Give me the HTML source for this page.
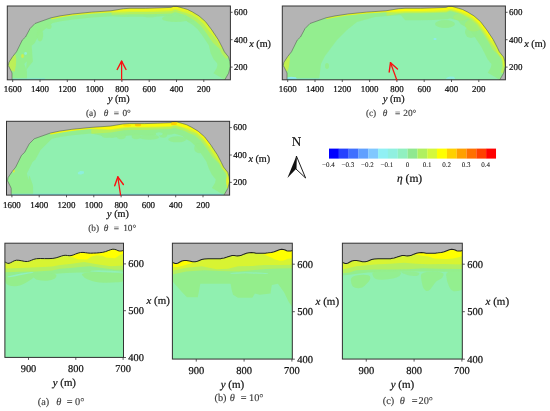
<!DOCTYPE html>
<html><head><meta charset="utf-8"><title>Figure</title>
<style>
html,body{margin:0;padding:0;background:#fff;}
body{width:550px;height:411px;overflow:hidden;}
svg{display:block;}
text{font-family:"Liberation Serif",serif;fill:#111;text-rendering:geometricPrecision;stroke:#111;stroke-width:0.22px;}
.it{font-style:italic;}
.tt{font-size:8.95px;}
.tl{font-size:10.2px;}
.ct{font-size:9.3px;fill:#3a3a3a;stroke:#3a3a3a;stroke-width:0.15px;}
.cl{font-size:7px;stroke-width:0.05px;}
.bt{font-size:10.4px;}
.bl{font-size:10.9px;}
.cb{font-size:10.3px;fill:#3a3a3a;stroke:#3a3a3a;stroke-width:0.15px;}
</style></head>
<body>
<svg width="550" height="411" viewBox="0 0 550 411">
<rect width="550" height="411" fill="#fff"/>
<g transform="translate(0,0)">
<rect x="7.3" y="6.0" width="223.1" height="73.8" fill="#b4b4b4"/>
<path d="M12.0 79.8 L12.0 73.0 L10.8 70.5 L8.3 65.5 L8.9 62.3 L12.7 56.5 L16.5 51.8 L22.3 40.0 L25.5 37.0 L30.0 28.6 L35.0 23.5 L51.0 17.8 L60.0 15.9 L72.7 14.0 L91.8 12.1 L111.0 10.8 L123.6 8.7 L130.0 8.3 L145.5 8.3 L158.0 7.9 L171.0 7.4 L173.5 6.4 L177.0 6.4 L183.6 8.3 L187.6 9.5 L192.7 12.1 L199.0 15.9 L205.5 21.6 L211.8 29.9 L218.2 39.5 L222.2 47.2 L224.4 51.8 L228.6 57.0 L229.9 61.6 L230.4 66.3 L228.6 73.2 L224.8 79.8 Z" fill="#90f0b0"/>
<clipPath id="tc0_0"><path d="M12.0 79.8 L12.0 73.0 L10.8 70.5 L8.3 65.5 L8.9 62.3 L12.7 56.5 L16.5 51.8 L22.3 40.0 L25.5 37.0 L30.0 28.6 L35.0 23.5 L51.0 17.8 L60.0 15.9 L72.7 14.0 L91.8 12.1 L111.0 10.8 L123.6 8.7 L130.0 8.3 L145.5 8.3 L158.0 7.9 L171.0 7.4 L173.5 6.4 L177.0 6.4 L183.6 8.3 L187.6 9.5 L192.7 12.1 L199.0 15.9 L205.5 21.6 L211.8 29.9 L218.2 39.5 L222.2 47.2 L224.4 51.8 L228.6 57.0 L229.9 61.6 L230.4 66.3 L228.6 73.2 L224.8 79.8 Z"/></clipPath><g clip-path="url(#tc0_0)">
<path d="M12.0 79.8 L12.0 73.0 L10.8 70.5 L8.3 65.5 L8.9 62.3 L12.7 56.5 L16.5 51.8 L22.3 40.0 L25.5 37.0 L30.0 28.6 L35.0 23.5 L51.0 17.8 L60.0 15.9 L72.7 14.0 L91.8 12.1 L111.0 10.8 L123.6 8.7 L130.0 8.3 L145.5 8.3 L158.0 7.9 L171.0 7.4 L173.5 6.4 L177.0 6.4 L183.6 8.3 L187.6 9.5 L192.7 12.1 L199.0 15.9 L205.5 21.6 L211.8 29.9 L218.2 39.5 L222.2 47.2 L224.4 51.8 L228.6 57.0 L229.9 61.6 L230.4 66.3 L228.6 73.2 L224.8 79.8 L213.5 73.3 L216.6 68.2 L217.5 64.9 L217.1 64.1 L217.3 63.4 L213.5 58.9 L210.6 53.1 L208.8 45.2 L202.8 36.3 L197.4 29.0 L192.4 24.7 L187.3 21.7 L184.3 17.3 L181.2 16.5 L175.4 14.8 L174.9 14.8 L171.8 15.9 L158.3 16.4 L145.6 16.8 L130.2 16.8 L124.7 17.1 L111.6 16.3 L92.3 17.6 L73.4 19.5 L60.9 21.3 L52.6 23.1 L40.0 33.3 L39.0 34.9 L34.6 43.2 L31.7 45.7 L32.9 61.4 L28.1 67.6 L26.0 70.6 L26.8 61.2 L24.3 63.9 L26.9 71.1 L27.0 79.8 Z" fill="#94ee8c" opacity="0.9"/>
<ellipse cx="40" cy="35" rx="3.2" ry="6.5" fill="#94ee8c" opacity="0.9"/>
<ellipse cx="49" cy="26.5" rx="2.6" ry="2.6" fill="#94ee8c" opacity="0.9"/>
<ellipse cx="176" cy="18.5" rx="14" ry="3.6" fill="#94ee8c" opacity="0.85"/>
<ellipse cx="150" cy="15.5" rx="7" ry="2" fill="#94ee8c" opacity="0.7"/>
<ellipse cx="190" cy="19" rx="5" ry="3" fill="#94ee8c" opacity="0.8"/>
<path d="M111.0 10.8 L123.6 8.7 L130.0 8.3 L145.5 8.3 L158.0 7.9 L171.0 7.4 L173.5 6.4 L177.0 6.4 L183.6 8.3 L187.6 9.5 L192.7 12.1 L199.0 15.9 L205.5 21.6 L211.8 29.9 L218.2 39.5 L222.2 47.2 L224.4 51.8 L228.6 57.0 L226.1 59.0 L221.7 53.5 L219.3 48.6 L212.9 42.7 L206.7 33.5 L200.9 25.8 L195.3 20.9 L189.7 17.5 L185.3 15.0 L181.9 14.1 L175.9 12.3 L174.5 12.3 L171.6 13.4 L158.2 13.9 L145.6 14.3 L130.1 14.3 L124.4 14.6 L111.7 14.7 Z" fill="#b4f060" opacity="1"/>
<path d="M51.0 17.8 L60.0 15.9 L72.7 14.0 L91.8 12.1 L111.0 10.8 L123.6 8.7 L130.0 8.3 L145.5 8.3 L158.0 7.9 L171.0 7.4 L173.5 6.4 L177.0 6.4 L183.6 8.3 L187.6 9.5 L192.7 12.1 L199.0 15.9 L205.5 21.6 L211.8 29.9 L218.2 39.5 L222.2 47.2 L220.9 47.9 L216.9 40.3 L209.4 31.6 L203.3 23.6 L197.2 18.3 L191.2 14.7 L186.1 13.0 L182.5 11.9 L176.3 10.1 L174.1 10.1 L171.4 11.2 L158.1 11.7 L145.6 12.1 L130.1 12.1 L124.1 12.5 L111.2 12.4 L91.9 13.7 L72.9 15.6 L60.3 17.5 L51.3 19.4 Z" fill="#d8f432" opacity="1"/>
<path d="M60.0 15.9 L72.7 14.0 L91.8 12.1 L111.0 10.8 L123.6 8.7 L130.0 8.3 L145.5 8.3 L158.0 7.9 L171.0 7.4 L173.5 6.4 L177.0 6.4 L183.6 8.3 L187.6 9.5 L192.7 12.1 L192.2 13.2 L187.1 10.6 L182.9 10.6 L176.6 8.8 L173.9 8.8 L171.2 9.8 L158.1 10.3 L145.5 10.7 L130.0 10.7 L123.9 11.1 L111.1 11.7 L91.9 13.0 L72.8 14.9 L60.1 16.8 Z" fill="#f0f61c" opacity="1"/>
<path d="M8.3 65.5 L8.9 62.3 L12.7 56.5 L15.3 54.0 L16.2 59.0 L15.9 65.5 L14.6 71.8 L10.8 70.5 Z" fill="#bcf058" opacity="1"/>
<ellipse cx="22.5" cy="56" rx="1.4" ry="1.9" fill="#ccf050" opacity="1"/>
<ellipse cx="25.6" cy="53.5" rx="1.4" ry="1.4" fill="#90f0d4" opacity="1"/>
</g>
<path d="M12 79.1 L45 79.1" stroke="#78dce4" stroke-width="1.1" fill="none" opacity="0.85"/>
<path d="M12.0 79.8 L12.0 73.0 L10.8 70.5 L8.3 65.5 L8.9 62.3 L12.7 56.5 L16.5 51.8 L22.3 40.0 L25.5 37.0 L30.0 28.6 L35.0 23.5 L51.0 17.8 L60.0 15.9 L72.7 14.0 L91.8 12.1 L111.0 10.8 L123.6 8.7 L130.0 8.3 L145.5 8.3 L158.0 7.9 L171.0 7.4 L173.5 6.4 L177.0 6.4 L183.6 8.3 L187.6 9.5 L192.7 12.1 L199.0 15.9 L205.5 21.6 L211.8 29.9 L218.2 39.5 L222.2 47.2 L224.4 51.8 L228.6 57.0 L229.9 61.6 L230.4 66.3 L228.6 73.2 L224.8 79.8" fill="none" stroke="#5a5a50" stroke-width="0.6"/>
<rect x="7.3" y="6.0" width="223.1" height="73.8" fill="none" stroke="#333" stroke-width="1"/>
<path d="M12.7 79.8 v2.2" stroke="#333" stroke-width="0.8"/>
<text x="12.7" y="92.3" text-anchor="middle" class="tt">1600</text>
<path d="M40.0 79.8 v2.2" stroke="#333" stroke-width="0.8"/>
<text x="40.0" y="92.3" text-anchor="middle" class="tt">1400</text>
<path d="M67.3 79.8 v2.2" stroke="#333" stroke-width="0.8"/>
<text x="67.3" y="92.3" text-anchor="middle" class="tt">1200</text>
<path d="M94.6 79.8 v2.2" stroke="#333" stroke-width="0.8"/>
<text x="94.6" y="92.3" text-anchor="middle" class="tt">1000</text>
<path d="M121.9 79.8 v2.2" stroke="#333" stroke-width="0.8"/>
<text x="121.9" y="92.3" text-anchor="middle" class="tt">800</text>
<path d="M149.2 79.8 v2.2" stroke="#333" stroke-width="0.8"/>
<text x="149.2" y="92.3" text-anchor="middle" class="tt">600</text>
<path d="M176.5 79.8 v2.2" stroke="#333" stroke-width="0.8"/>
<text x="176.5" y="92.3" text-anchor="middle" class="tt">400</text>
<path d="M203.8 79.8 v2.2" stroke="#333" stroke-width="0.8"/>
<text x="203.8" y="92.3" text-anchor="middle" class="tt">200</text>
<path d="M230.4 12.3 h2.2" stroke="#333" stroke-width="0.8"/>
<text x="234" y="15.2" class="tt">600</text>
<path d="M230.4 39.7 h2.2" stroke="#333" stroke-width="0.8"/>
<text x="234" y="42.6" class="tt">400</text>
<path d="M230.4 67.1 h2.2" stroke="#333" stroke-width="0.8"/>
<text x="234" y="70.0" class="tt">200</text>
<text x="249.2" y="46.6" class="tl"><tspan class="it">x</tspan> (m)</text>
<text x="107.9" y="102" class="tl"><tspan class="it">y</tspan> (m)</text>
</g>
<g transform="translate(-0.8,115.3)">
<rect x="7.3" y="6.0" width="223.1" height="73.8" fill="#b4b4b4"/>
<path d="M12.0 79.8 L12.0 73.0 L10.8 70.5 L8.3 65.5 L8.9 62.3 L12.7 56.5 L16.5 51.8 L22.3 40.0 L25.5 37.0 L30.0 28.6 L35.0 23.5 L51.0 17.8 L60.0 15.9 L72.7 14.0 L91.8 12.1 L111.0 10.8 L123.6 8.7 L130.0 8.3 L145.5 8.3 L158.0 7.9 L171.0 7.4 L173.5 6.4 L177.0 6.4 L183.6 8.3 L187.6 9.5 L192.7 12.1 L199.0 15.9 L205.5 21.6 L211.8 29.9 L218.2 39.5 L222.2 47.2 L224.4 51.8 L228.6 57.0 L229.9 61.6 L230.4 66.3 L228.6 73.2 L224.8 79.8 Z" fill="#90f0b0"/>
<clipPath id="tc0_115"><path d="M12.0 79.8 L12.0 73.0 L10.8 70.5 L8.3 65.5 L8.9 62.3 L12.7 56.5 L16.5 51.8 L22.3 40.0 L25.5 37.0 L30.0 28.6 L35.0 23.5 L51.0 17.8 L60.0 15.9 L72.7 14.0 L91.8 12.1 L111.0 10.8 L123.6 8.7 L130.0 8.3 L145.5 8.3 L158.0 7.9 L171.0 7.4 L173.5 6.4 L177.0 6.4 L183.6 8.3 L187.6 9.5 L192.7 12.1 L199.0 15.9 L205.5 21.6 L211.8 29.9 L218.2 39.5 L222.2 47.2 L224.4 51.8 L228.6 57.0 L229.9 61.6 L230.4 66.3 L228.6 73.2 L224.8 79.8 Z"/></clipPath><g clip-path="url(#tc0_115)">
<path d="M12.0 79.8 L12.0 73.0 L10.8 70.5 L8.3 65.5 L8.9 62.3 L12.7 56.5 L16.5 51.8 L22.3 40.0 L25.5 37.0 L30.0 28.6 L35.0 23.5 L51.0 17.8 L60.0 15.9 L72.7 14.0 L91.8 12.1 L111.0 10.8 L123.6 8.7 L130.0 8.3 L145.5 8.3 L158.0 7.9 L171.0 7.4 L173.5 6.4 L177.0 6.4 L183.6 8.3 L187.6 9.5 L192.7 12.1 L199.0 15.9 L205.5 21.6 L211.8 29.9 L218.2 39.5 L222.2 47.2 L224.4 51.8 L228.6 57.0 L229.9 61.6 L230.4 66.3 L228.6 73.2 L224.8 79.8 L212.7 72.8 L215.7 67.8 L216.5 64.7 L216.2 64.3 L216.4 63.9 L212.7 59.5 L209.7 53.5 L207.1 46.2 L201.2 37.4 L195.9 30.4 L191.3 26.3 L186.3 23.4 L183.0 20.6 L180.2 19.8 L174.8 18.2 L175.5 18.2 L172.2 19.3 L158.4 19.9 L145.7 20.3 L130.2 20.3 L125.2 20.6 L112.3 22.7 L92.3 18.1 L73.4 20.0 L61.0 21.8 L52.7 23.5 L40.9 35.1 L40.6 36.1 L36.3 44.3 L33.4 46.8 L27.7 58.3 L30.5 69.4 L28.7 72.0 L29.7 60.5 L30.5 60.8 L33.8 70.2 L34.0 79.8 Z" fill="#94ee8c" opacity="0.92"/>
<ellipse cx="150" cy="22" rx="10" ry="2.5" fill="#94ee8c" opacity="0.8"/>
<ellipse cx="178" cy="24" rx="9" ry="3" fill="#94ee8c" opacity="0.8"/>
<ellipse cx="107" cy="20" rx="4.5" ry="2.6" fill="#94ee8c" opacity="0.85"/>
<ellipse cx="122" cy="21" rx="4.5" ry="3" fill="#94ee8c" opacity="0.85"/>
<ellipse cx="137" cy="21.2" rx="4.5" ry="2.8" fill="#94ee8c" opacity="0.85"/>
<ellipse cx="164" cy="20" rx="4" ry="2.4" fill="#94ee8c" opacity="0.85"/>
<ellipse cx="200" cy="33" rx="5" ry="5" fill="#94ee8c" opacity="0.8"/>
<ellipse cx="160" cy="18.5" rx="3.5" ry="1.6" fill="#90f0b0" opacity="0.9"/>
<path d="M91.8 12.1 L111.0 10.8 L123.6 8.7 L130.0 8.3 L145.5 8.3 L158.0 7.9 L171.0 7.4 L173.5 6.4 L177.0 6.4 L183.6 8.3 L187.6 9.5 L192.7 12.1 L199.0 15.9 L205.5 21.6 L211.8 29.9 L218.2 39.5 L222.2 47.2 L224.4 51.8 L228.6 57.0 L229.9 61.6 L230.4 66.3 L227.8 66.6 L227.3 62.1 L226.3 58.3 L222.2 53.2 L219.9 48.4 L213.6 42.3 L207.4 33.0 L201.5 25.2 L195.8 20.2 L189.6 17.7 L185.1 15.4 L181.8 14.4 L175.8 12.7 L174.6 12.7 L171.6 13.8 L158.2 14.3 L145.6 14.7 L130.1 14.7 L124.4 15.0 L111.7 17.2 L92.2 18.5 Z" fill="#b4f060" opacity="1"/>
<path d="M51.0 17.8 L60.0 15.9 L72.7 14.0 L91.8 12.1 L111.0 10.8 L123.6 8.7 L130.0 8.3 L145.5 8.3 L158.0 7.9 L171.0 7.4 L173.5 6.4 L177.0 6.4 L183.6 8.3 L187.6 9.5 L192.7 12.1 L199.0 15.9 L205.5 21.6 L211.8 29.9 L218.2 39.5 L222.2 47.2 L224.4 51.8 L228.6 57.0 L229.9 61.6 L230.4 66.3 L228.6 73.2 L227.1 72.8 L228.8 66.1 L228.3 61.9 L227.2 57.8 L223.1 52.7 L220.8 47.9 L215.6 41.0 L209.4 31.6 L203.3 23.6 L197.2 18.3 L190.6 15.8 L186.0 13.4 L182.4 12.3 L176.2 10.5 L174.2 10.5 L171.4 11.6 L158.1 12.1 L145.6 12.5 L130.1 12.5 L124.1 12.9 L111.4 15.0 L91.9 13.8 L72.9 15.7 L60.3 17.6 L51.4 19.5 Z" fill="#d8f432" opacity="1"/>
<path d="M51.0 17.8 L60.0 15.9 L72.7 14.0 L91.8 12.1 L111.0 10.8 L123.6 8.7 L130.0 8.3 L145.5 8.3 L158.0 7.9 L171.0 7.4 L173.5 6.4 L177.0 6.4 L183.6 8.3 L187.6 9.5 L192.7 12.1 L199.0 15.9 L205.5 21.6 L211.8 29.9 L210.4 31.0 L204.2 22.8 L197.9 17.3 L191.8 13.7 L186.4 12.5 L182.7 11.4 L176.4 9.5 L174.0 9.6 L171.3 10.6 L158.1 11.1 L145.5 11.5 L130.1 11.5 L124.0 11.9 L111.3 14.0 L91.9 13.3 L72.8 15.2 L60.2 17.1 L51.2 19.0 Z" fill="#fbfb08" opacity="1"/>
<ellipse cx="138.8" cy="9.6" rx="3.2" ry="1.3" fill="#ffc800" opacity="1"/>
<ellipse cx="174.6" cy="8.2" rx="3.2" ry="1.5" fill="#ffd000" opacity="1"/>
<ellipse cx="128" cy="10.2" rx="4" ry="1.1" fill="#ffe400" opacity="1"/>
<ellipse cx="228.3" cy="66" rx="1.4" ry="4.5" fill="#e0f030" opacity="1"/>
<ellipse cx="14.6" cy="55.6" rx="0.9" ry="1.6" fill="#e8f030" opacity="1"/>
<path d="M78.5 57.5 L81.0 55.6 L84.5 56.0 L85.0 58.0 L82.0 59.3 L79.0 59.0 Z" fill="#8ceef0" opacity="0.7"/>
</g>
<path d="M12 79.1 L224.5 79.1" stroke="#78dce4" stroke-width="1.1" fill="none" opacity="0.85"/>
<path d="M12.0 79.8 L12.0 73.0 L10.8 70.5 L8.3 65.5 L8.9 62.3 L12.7 56.5 L16.5 51.8 L22.3 40.0 L25.5 37.0 L30.0 28.6 L35.0 23.5 L51.0 17.8 L60.0 15.9 L72.7 14.0 L91.8 12.1 L111.0 10.8 L123.6 8.7 L130.0 8.3 L145.5 8.3 L158.0 7.9 L171.0 7.4 L173.5 6.4 L177.0 6.4 L183.6 8.3 L187.6 9.5 L192.7 12.1 L199.0 15.9 L205.5 21.6 L211.8 29.9 L218.2 39.5 L222.2 47.2 L224.4 51.8 L228.6 57.0 L229.9 61.6 L230.4 66.3 L228.6 73.2 L224.8 79.8" fill="none" stroke="#5a5a50" stroke-width="0.6"/>
<rect x="7.3" y="6.0" width="223.1" height="73.8" fill="none" stroke="#333" stroke-width="1"/>
<path d="M12.7 79.8 v2.2" stroke="#333" stroke-width="0.8"/>
<text x="12.7" y="92.3" text-anchor="middle" class="tt">1600</text>
<path d="M40.0 79.8 v2.2" stroke="#333" stroke-width="0.8"/>
<text x="40.0" y="92.3" text-anchor="middle" class="tt">1400</text>
<path d="M67.3 79.8 v2.2" stroke="#333" stroke-width="0.8"/>
<text x="67.3" y="92.3" text-anchor="middle" class="tt">1200</text>
<path d="M94.6 79.8 v2.2" stroke="#333" stroke-width="0.8"/>
<text x="94.6" y="92.3" text-anchor="middle" class="tt">1000</text>
<path d="M121.9 79.8 v2.2" stroke="#333" stroke-width="0.8"/>
<text x="121.9" y="92.3" text-anchor="middle" class="tt">800</text>
<path d="M149.2 79.8 v2.2" stroke="#333" stroke-width="0.8"/>
<text x="149.2" y="92.3" text-anchor="middle" class="tt">600</text>
<path d="M176.5 79.8 v2.2" stroke="#333" stroke-width="0.8"/>
<text x="176.5" y="92.3" text-anchor="middle" class="tt">400</text>
<path d="M203.8 79.8 v2.2" stroke="#333" stroke-width="0.8"/>
<text x="203.8" y="92.3" text-anchor="middle" class="tt">200</text>
<path d="M230.4 12.3 h2.2" stroke="#333" stroke-width="0.8"/>
<text x="234" y="15.2" class="tt">600</text>
<path d="M230.4 39.7 h2.2" stroke="#333" stroke-width="0.8"/>
<text x="234" y="42.6" class="tt">400</text>
<path d="M230.4 67.1 h2.2" stroke="#333" stroke-width="0.8"/>
<text x="234" y="70.0" class="tt">200</text>
<text x="249.2" y="46.6" class="tl"><tspan class="it">x</tspan> (m)</text>
<text x="107.9" y="102" class="tl"><tspan class="it">y</tspan> (m)</text>
</g>
<g transform="translate(275,0)">
<rect x="7.3" y="6.0" width="223.1" height="73.8" fill="#b4b4b4"/>
<path d="M12.0 79.8 L12.0 73.0 L10.8 70.5 L8.3 65.5 L8.9 62.3 L12.7 56.5 L16.5 51.8 L22.3 40.0 L25.5 37.0 L30.0 28.6 L35.0 23.5 L51.0 17.8 L60.0 15.9 L72.7 14.0 L91.8 12.1 L111.0 10.8 L123.6 8.7 L130.0 8.3 L145.5 8.3 L158.0 7.9 L171.0 7.4 L173.5 6.4 L177.0 6.4 L183.6 8.3 L187.6 9.5 L192.7 12.1 L199.0 15.9 L205.5 21.6 L211.8 29.9 L218.2 39.5 L222.2 47.2 L224.4 51.8 L228.6 57.0 L229.9 61.6 L230.4 66.3 L228.6 73.2 L224.8 79.8 Z" fill="#90f0b0"/>
<clipPath id="tc275_0"><path d="M12.0 79.8 L12.0 73.0 L10.8 70.5 L8.3 65.5 L8.9 62.3 L12.7 56.5 L16.5 51.8 L22.3 40.0 L25.5 37.0 L30.0 28.6 L35.0 23.5 L51.0 17.8 L60.0 15.9 L72.7 14.0 L91.8 12.1 L111.0 10.8 L123.6 8.7 L130.0 8.3 L145.5 8.3 L158.0 7.9 L171.0 7.4 L173.5 6.4 L177.0 6.4 L183.6 8.3 L187.6 9.5 L192.7 12.1 L199.0 15.9 L205.5 21.6 L211.8 29.9 L218.2 39.5 L222.2 47.2 L224.4 51.8 L228.6 57.0 L229.9 61.6 L230.4 66.3 L228.6 73.2 L224.8 79.8 Z"/></clipPath><g clip-path="url(#tc275_0)">
<path d="M12.0 79.8 L12.0 73.0 L10.8 70.5 L8.3 65.5 L8.9 62.3 L12.7 56.5 L16.5 51.8 L22.3 40.0 L25.5 37.0 L30.0 28.6 L35.0 23.5 L51.0 17.8 L60.0 15.9 L72.7 14.0 L91.8 12.1 L111.0 10.8 L123.6 8.7 L140.0 9.0 L140.0 14.0 L120.0 15.5 L100.0 17.0 L82.0 22.0 L72.0 30.0 L62.0 40.0 L56.0 48.0 L50.0 56.0 L46.0 64.0 L45.0 72.0 L44.0 79.8 Z" fill="#94ee8c" opacity="0.92"/>
<path d="M123.6 8.7 L130.0 8.3 L145.5 8.3 L158.0 7.9 L171.0 7.4 L173.5 6.4 L177.0 6.4 L183.6 8.3 L187.6 9.5 L192.7 12.1 L199.0 15.9 L205.5 21.6 L211.8 29.9 L218.2 39.5 L222.2 47.2 L224.4 51.8 L228.6 57.0 L229.9 61.6 L230.4 66.3 L228.6 73.2 L224.8 79.8 L212.7 72.8 L215.7 67.8 L216.5 64.7 L216.2 64.3 L216.4 63.9 L212.7 59.5 L209.7 53.5 L206.2 46.7 L200.4 38.0 L195.2 31.0 L190.7 27.1 L185.8 24.3 L183.0 20.6 L180.2 19.8 L174.8 18.2 L175.5 18.2 L172.2 19.3 L158.4 19.9 L145.7 20.3 L130.2 20.3 L123.8 12.7 Z" fill="#94ee8c" opacity="0.92"/>
<ellipse cx="170" cy="24" rx="10" ry="4" fill="#94ee8c" opacity="0.8"/>
<ellipse cx="196" cy="32" rx="6" ry="6" fill="#94ee8c" opacity="0.8"/>
<ellipse cx="52" cy="66" rx="2" ry="3" fill="#94ee8c" opacity="0.9"/>
<ellipse cx="199" cy="25" rx="9" ry="6.5" fill="#b4f060" opacity="0.45"/>
<ellipse cx="186" cy="17" rx="8" ry="3.5" fill="#b4f060" opacity="0.4"/>
<path d="M111.0 10.8 L123.6 8.7 L130.0 8.3 L145.5 8.3 L158.0 7.9 L171.0 7.4 L173.5 6.4 L177.0 6.4 L183.6 8.3 L187.6 9.5 L192.7 12.1 L199.0 15.9 L205.5 21.6 L211.8 29.9 L218.2 39.5 L222.2 47.2 L224.4 51.8 L228.6 57.0 L229.9 61.6 L230.4 66.3 L228.6 73.2 L225.7 72.4 L227.4 66.0 L227.0 62.2 L226.0 58.5 L221.9 53.4 L217.6 49.5 L213.7 42.2 L207.6 32.9 L201.7 25.1 L195.9 20.1 L190.3 16.5 L185.7 14.1 L182.2 13.1 L176.1 11.3 L174.3 11.3 L171.5 12.4 L158.2 12.9 L145.6 13.3 L130.1 13.3 L124.3 13.7 L111.8 15.7 Z" fill="#b4f060" opacity="1"/>
<path d="M51.0 17.8 L60.0 15.9 L72.7 14.0 L91.8 12.1 L111.0 10.8 L123.6 8.7 L130.0 8.3 L145.5 8.3 L158.0 7.9 L171.0 7.4 L173.5 6.4 L177.0 6.4 L183.6 8.3 L187.6 9.5 L192.7 12.1 L199.0 15.9 L205.5 21.6 L211.8 29.9 L218.2 39.5 L222.2 47.2 L224.4 51.8 L228.6 57.0 L229.9 61.6 L230.4 66.3 L228.4 66.5 L227.9 62.0 L226.9 58.0 L222.7 52.9 L220.4 48.1 L215.1 41.4 L208.9 32.0 L202.8 24.0 L196.9 18.8 L190.7 15.6 L186.1 13.2 L182.5 12.1 L176.3 10.3 L174.2 10.3 L171.4 11.4 L158.1 11.9 L145.6 12.3 L130.1 12.3 L124.1 12.7 L111.2 12.3 L91.9 13.6 L72.9 15.5 L60.3 17.4 L51.3 19.3 Z" fill="#d8f432" opacity="1"/>
<path d="M72.7 14.0 L91.8 12.1 L111.0 10.8 L123.6 8.7 L130.0 8.3 L145.5 8.3 L158.0 7.9 L171.0 7.4 L173.5 6.4 L177.0 6.4 L183.6 8.3 L187.6 9.5 L192.7 12.1 L199.0 15.9 L205.5 21.6 L211.8 29.9 L218.2 39.5 L216.5 40.6 L210.2 31.1 L204.0 22.9 L197.8 17.5 L191.7 13.8 L186.6 11.9 L182.9 10.8 L176.5 9.0 L173.9 9.0 L171.3 10.0 L158.1 10.5 L145.5 10.9 L130.0 10.9 L123.9 11.3 L111.1 11.8 L91.9 13.1 L72.8 15.0 Z" fill="#f8fb0c" opacity="1"/>
<path d="M8.3 65.5 L8.9 62.3 L12.7 56.5 L14.6 54.6 L14.8 60.0 L13.8 67.0 L12.5 71.5 L10.8 70.5 Z" fill="#c0f050" opacity="1"/>
<path d="M12.0 77.5 L16.0 76.8 L21.0 77.2 L22.0 79.5 L12.0 79.5 Z" fill="#8cecec" opacity="1"/>
<path d="M172.0 77.6 L175.0 76.4 L179.0 76.8 L180.5 79.5 L170.5 79.5 Z" fill="#8ceeea" opacity="0.8"/>
<ellipse cx="160" cy="39" rx="1.6" ry="1.1" fill="#8cecec" opacity="1"/>
</g>
<path d="M12 79.1 L45 79.1" stroke="#78dce4" stroke-width="1.1" fill="none" opacity="0.85"/>
<path d="M12.0 79.8 L12.0 73.0 L10.8 70.5 L8.3 65.5 L8.9 62.3 L12.7 56.5 L16.5 51.8 L22.3 40.0 L25.5 37.0 L30.0 28.6 L35.0 23.5 L51.0 17.8 L60.0 15.9 L72.7 14.0 L91.8 12.1 L111.0 10.8 L123.6 8.7 L130.0 8.3 L145.5 8.3 L158.0 7.9 L171.0 7.4 L173.5 6.4 L177.0 6.4 L183.6 8.3 L187.6 9.5 L192.7 12.1 L199.0 15.9 L205.5 21.6 L211.8 29.9 L218.2 39.5 L222.2 47.2 L224.4 51.8 L228.6 57.0 L229.9 61.6 L230.4 66.3 L228.6 73.2 L224.8 79.8" fill="none" stroke="#5a5a50" stroke-width="0.6"/>
<rect x="7.3" y="6.0" width="223.1" height="73.8" fill="none" stroke="#333" stroke-width="1"/>
<path d="M12.7 79.8 v2.2" stroke="#333" stroke-width="0.8"/>
<text x="12.7" y="92.3" text-anchor="middle" class="tt">1600</text>
<path d="M40.0 79.8 v2.2" stroke="#333" stroke-width="0.8"/>
<text x="40.0" y="92.3" text-anchor="middle" class="tt">1400</text>
<path d="M67.3 79.8 v2.2" stroke="#333" stroke-width="0.8"/>
<text x="67.3" y="92.3" text-anchor="middle" class="tt">1200</text>
<path d="M94.6 79.8 v2.2" stroke="#333" stroke-width="0.8"/>
<text x="94.6" y="92.3" text-anchor="middle" class="tt">1000</text>
<path d="M121.9 79.8 v2.2" stroke="#333" stroke-width="0.8"/>
<text x="121.9" y="92.3" text-anchor="middle" class="tt">800</text>
<path d="M149.2 79.8 v2.2" stroke="#333" stroke-width="0.8"/>
<text x="149.2" y="92.3" text-anchor="middle" class="tt">600</text>
<path d="M176.5 79.8 v2.2" stroke="#333" stroke-width="0.8"/>
<text x="176.5" y="92.3" text-anchor="middle" class="tt">400</text>
<path d="M203.8 79.8 v2.2" stroke="#333" stroke-width="0.8"/>
<text x="203.8" y="92.3" text-anchor="middle" class="tt">200</text>
<path d="M230.4 12.3 h2.2" stroke="#333" stroke-width="0.8"/>
<text x="234" y="15.2" class="tt">600</text>
<path d="M230.4 39.7 h2.2" stroke="#333" stroke-width="0.8"/>
<text x="234" y="42.6" class="tt">400</text>
<path d="M230.4 67.1 h2.2" stroke="#333" stroke-width="0.8"/>
<text x="234" y="70.0" class="tt">200</text>
<text x="249.2" y="46.6" class="tl"><tspan class="it">x</tspan> (m)</text>
<text x="107.9" y="102" class="tl"><tspan class="it">y</tspan> (m)</text>
</g>
<path d="M121.6 80.3 L121.6 61.2" stroke="#fa1010" stroke-width="1.25" fill="none"/><path d="M121.6 61.2 L117.2 69.5" stroke="#fa1010" stroke-width="1.4" fill="none" stroke-linecap="round"/><path d="M121.6 61.2 L126.0 69.5" stroke="#fa1010" stroke-width="1.4" fill="none" stroke-linecap="round"/>
<path d="M120.6 195.3 L117.8 176.9" stroke="#fa1010" stroke-width="1.25" fill="none"/><path d="M117.8 176.9 L114.7 185.8" stroke="#fa1010" stroke-width="1.4" fill="none" stroke-linecap="round"/><path d="M117.8 176.9 L123.4 184.5" stroke="#fa1010" stroke-width="1.4" fill="none" stroke-linecap="round"/>
<path d="M396.9 80.3 L390.5 62.7" stroke="#fa1010" stroke-width="1.25" fill="none"/><path d="M390.5 62.7 L389.2 72.0" stroke="#fa1010" stroke-width="1.4" fill="none" stroke-linecap="round"/><path d="M390.5 62.7 L397.5 69.0" stroke="#fa1010" stroke-width="1.4" fill="none" stroke-linecap="round"/>
<text x="85.9" y="115.6" class="ct">(a)</text><text x="103.8" y="115.6" class="ct"><tspan class="it">θ</tspan></text><text x="113.8" y="115.6" class="ct">=</text><text x="122.4" y="115.6" class="ct">0°</text>
<text x="88.2" y="230.9" class="ct">(b)</text><text x="103.8" y="230.9" class="ct"><tspan class="it">θ</tspan></text><text x="113.8" y="230.9" class="ct">=</text><text x="123.2" y="230.9" class="ct">10°</text>
<text x="365.9" y="116.3" class="ct">(c)</text><text x="382.7" y="116.3" class="ct"><tspan class="it">θ</tspan></text><text x="395" y="116.3" class="ct">=</text><text x="403.3" y="116.3" class="ct">20°</text>
<text x="296.5" y="146" text-anchor="middle" style="font-size:13.2px;stroke-width:0.1px">N</text>
<path d="M296.4 156 L287.4 178 L296 169 Z" fill="#111"/>
<path d="M296.4 156 L305.6 178 L296 169 Z" fill="#fff" stroke="#111" stroke-width="0.95" stroke-linejoin="miter"/>
<rect x="329.00" y="148.6" width="9.9" height="10" fill="#0000ff"/>
<rect x="338.82" y="148.6" width="9.9" height="10" fill="#2440ff"/>
<rect x="348.64" y="148.6" width="9.9" height="10" fill="#4070ff"/>
<rect x="358.46" y="148.6" width="9.9" height="10" fill="#60a0ff"/>
<rect x="368.28" y="148.6" width="9.9" height="10" fill="#80c8ff"/>
<rect x="378.10" y="148.6" width="9.9" height="10" fill="#90f0f4"/>
<rect x="387.92" y="148.6" width="9.9" height="10" fill="#90f0e0"/>
<rect x="397.74" y="148.6" width="9.9" height="10" fill="#90f0c0"/>
<rect x="407.56" y="148.6" width="9.9" height="10" fill="#90e890"/>
<rect x="417.38" y="148.6" width="9.9" height="10" fill="#b0f060"/>
<rect x="427.20" y="148.6" width="9.9" height="10" fill="#d4f83c"/>
<rect x="437.02" y="148.6" width="9.9" height="10" fill="#ffff00"/>
<rect x="446.84" y="148.6" width="9.9" height="10" fill="#ffd000"/>
<rect x="456.66" y="148.6" width="9.9" height="10" fill="#ffa000"/>
<rect x="466.48" y="148.6" width="9.9" height="10" fill="#ff7000"/>
<rect x="476.30" y="148.6" width="9.9" height="10" fill="#ff4000"/>
<rect x="486.12" y="148.6" width="9.9" height="10" fill="#ff0000"/>
<text x="328.4" y="167.2" text-anchor="middle" class="cl">−0.4</text>
<text x="347.9" y="167.2" text-anchor="middle" class="cl">−0.3</text>
<text x="367.4" y="167.2" text-anchor="middle" class="cl">−0.2</text>
<text x="386.9" y="167.2" text-anchor="middle" class="cl">−0.1</text>
<text x="407.6" y="167.2" text-anchor="middle" class="cl">0</text>
<text x="427.1" y="167.2" text-anchor="middle" class="cl">0.1</text>
<text x="446.6" y="167.2" text-anchor="middle" class="cl">0.2</text>
<text x="466.1" y="167.2" text-anchor="middle" class="cl">0.3</text>
<text x="485.6" y="167.2" text-anchor="middle" class="cl">0.4</text>
<text x="397" y="181.6" style="font-size:11.5px"><tspan class="it">η</tspan> (m)</text>
<g transform="translate(4.9,243.2) scale(1,1) translate(-4.9,-243.2)">
<rect x="4.9" y="243.2" width="118.6" height="114.2" fill="#b4b4b4"/>
<path d="M4.9 262.0 L5.6 262.3 L6.5 262.8 L7.7 263.3 L9.1 263.3 L10.6 262.7 L12.3 261.8 L14.2 260.8 L16.4 260.2 L18.9 260.3 L21.8 260.8 L24.7 261.4 L27.4 261.5 L29.6 261.0 L31.6 260.2 L33.8 259.3 L36.5 258.7 L40.2 258.5 L44.6 258.6 L49.0 258.6 L52.9 258.4 L56.1 257.8 L59.0 256.9 L61.6 256.0 L63.9 255.4 L65.9 255.3 L67.5 255.5 L69.1 255.7 L71.0 255.6 L73.2 255.0 L75.6 254.0 L78.1 253.1 L80.6 252.5 L83.0 252.4 L85.4 252.7 L87.8 253.0 L90.5 253.2 L93.5 253.1 L96.6 253.0 L99.8 252.7 L102.8 252.3 L105.6 251.6 L108.2 250.6 L110.7 249.7 L112.9 249.2 L114.8 249.4 L116.5 249.9 L117.9 250.6 L119.3 251.0 L120.6 251.0 L121.8 250.9 L122.8 250.6 L123.5 250.5 L123.5 357.4 L4.9 357.4 Z" fill="#90f0b0"/>
<clipPath id="bc0"><path d="M4.9 262.0 L5.6 262.3 L6.5 262.8 L7.7 263.3 L9.1 263.3 L10.6 262.7 L12.3 261.8 L14.2 260.8 L16.4 260.2 L18.9 260.3 L21.8 260.8 L24.7 261.4 L27.4 261.5 L29.6 261.0 L31.6 260.2 L33.8 259.3 L36.5 258.7 L40.2 258.5 L44.6 258.6 L49.0 258.6 L52.9 258.4 L56.1 257.8 L59.0 256.9 L61.6 256.0 L63.9 255.4 L65.9 255.3 L67.5 255.5 L69.1 255.7 L71.0 255.6 L73.2 255.0 L75.6 254.0 L78.1 253.1 L80.6 252.5 L83.0 252.4 L85.4 252.7 L87.8 253.0 L90.5 253.2 L93.5 253.1 L96.6 253.0 L99.8 252.7 L102.8 252.3 L105.6 251.6 L108.2 250.6 L110.7 249.7 L112.9 249.2 L114.8 249.4 L116.5 249.9 L117.9 250.6 L119.3 251.0 L120.6 251.0 L121.8 250.9 L122.8 250.6 L123.5 250.5 L123.5 357.4 L4.9 357.4 Z"/></clipPath><g clip-path="url(#bc0)">
<path d="M4.9 262.0 L5.6 262.3 L6.5 262.8 L7.7 263.3 L9.1 263.3 L10.6 262.7 L12.3 261.8 L14.2 260.8 L16.4 260.2 L18.9 260.3 L21.8 260.8 L24.7 261.4 L27.4 261.5 L29.6 261.0 L31.6 260.2 L33.8 259.3 L36.5 258.7 L40.2 258.5 L44.6 258.6 L49.0 258.6 L52.9 258.4 L56.1 257.8 L59.0 256.9 L61.6 256.0 L63.9 255.4 L65.9 255.3 L67.5 255.5 L69.1 255.7 L71.0 255.6 L73.2 255.0 L75.6 254.0 L78.1 253.1 L80.6 252.5 L83.0 252.4 L85.4 252.7 L87.8 253.0 L90.5 253.2 L93.5 253.1 L96.6 253.0 L99.8 252.7 L102.8 252.3 L105.6 251.6 L108.2 250.6 L110.7 249.7 L112.9 249.2 L114.8 249.4 L116.5 249.9 L117.9 250.6 L119.3 251.0 L120.6 251.0 L121.8 250.9 L122.8 250.6 L123.5 250.5 L123.5 273.5 L100.0 273.0 L80.0 272.5 L66.0 273.0 L52.0 274.0 L36.5 275.0 L20.0 277.0 L4.9 276.0 Z" fill="#94ee8c" opacity="1"/>
<path d="M17.4 272.0 Q4.9 272.0 4.9 278.0 Q4.9 284.0 8.4 285.2 Q12.0 286.5 16.0 286.2 Q20.0 286.0 23.5 284.0 Q27.0 282.0 29.5 280.5 Q32.0 279.0 34.0 277.0 Q36.0 275.0 33.0 273.5 Q30.0 272.0 17.4 272.0 Z" fill="#94ee8c" opacity="1"/>
<path d="M44.0 273.0 Q32.0 273.0 33.0 276.0 Q34.0 279.0 38.0 280.0 Q42.0 281.0 47.0 280.8 Q52.0 280.5 54.5 278.8 Q57.0 277.0 56.5 275.0 Q56.0 273.0 44.0 273.0 Z" fill="#94ee8c" opacity="1"/>
<path d="M102.8 272.0 Q80.0 272.0 82.0 275.0 Q84.0 278.0 88.0 279.5 Q92.0 281.0 96.0 282.0 Q100.0 283.0 106.0 282.8 Q112.0 282.5 118.8 282.2 Q125.5 282.0 125.5 277.0 Q125.5 272.0 102.8 272.0 Z" fill="#94ee8c" opacity="1"/>
<path d="M7.5 277.1 Q8.0 277.5 11.0 277.1 Q14.0 276.8 19.0 275.6 Q24.0 274.4 29.0 273.5 Q34.0 272.6 33.5 272.2 Q33.0 271.8 27.5 272.5 Q22.0 273.2 17.0 274.3 Q12.0 275.4 9.5 276.0 Q7.0 276.6 7.5 277.1 Z" fill="#90f0c4" opacity="0.9"/>
<path d="M90.0 271.1 Q90.0 270.6 95.0 270.4 Q100.0 270.2 106.0 270.6 Q112.0 271.0 117.8 271.2 Q123.5 271.5 123.5 272.2 Q123.5 273.0 116.8 272.8 Q110.0 272.6 104.0 272.2 Q98.0 271.8 94.0 271.7 Q90.0 271.6 90.0 271.1 Z" fill="#90f0c0" opacity="0.85"/>
<path d="M4.9 262.0 L5.6 262.3 L6.5 262.8 L7.7 263.3 L9.1 263.3 L10.6 262.7 L12.3 261.8 L14.2 260.8 L16.4 260.2 L18.9 260.3 L21.8 260.8 L24.7 261.4 L27.4 261.5 L29.6 261.0 L31.6 260.2 L33.8 259.3 L36.5 258.7 L40.2 258.5 L44.6 258.6 L49.0 258.6 L52.9 258.4 L56.1 257.8 L59.0 256.9 L61.6 256.0 L63.9 255.4 L65.9 255.3 L67.5 255.5 L69.1 255.7 L71.0 255.6 L73.2 255.0 L75.6 254.0 L78.1 253.1 L80.6 252.5 L83.0 252.4 L85.4 252.7 L87.8 253.0 L90.5 253.2 L93.5 253.1 L96.6 253.0 L99.8 252.7 L102.8 252.3 L105.6 251.6 L108.2 250.6 L110.7 249.7 L112.9 249.2 L114.8 249.4 L116.5 249.9 L117.9 250.6 L119.3 251.0 L120.6 251.0 L121.8 250.9 L122.8 250.6 L123.5 250.5 L123.5 269.8 L115.0 269.8 L102.0 268.0 L90.0 266.2 L80.0 267.0 L70.0 268.0 L60.0 268.8 L52.0 270.4 L36.5 271.6 L20.0 271.8 L4.9 272.2 Z" fill="#b4f060" opacity="1"/>
<path d="M4.9 262.0 L5.6 262.3 L6.5 262.8 L7.7 263.3 L9.1 263.3 L10.6 262.7 L12.3 261.8 L14.2 260.8 L16.4 260.2 L18.9 260.3 L21.8 260.8 L24.7 261.4 L27.4 261.5 L29.6 261.0 L31.6 260.2 L33.8 259.3 L36.5 258.7 L40.2 258.5 L44.6 258.6 L49.0 258.6 L52.9 258.4 L56.1 257.8 L59.0 256.9 L61.6 256.0 L63.9 255.4 L65.9 255.3 L67.5 255.5 L69.1 255.7 L71.0 255.6 L73.2 255.0 L75.6 254.0 L78.1 253.1 L80.6 252.5 L83.0 252.4 L85.4 252.7 L87.8 253.0 L90.5 253.2 L93.5 253.1 L96.6 253.0 L99.8 252.7 L102.8 252.3 L105.6 251.6 L108.2 250.6 L110.7 249.7 L112.9 249.2 L114.8 249.4 L116.5 249.9 L117.9 250.6 L119.3 251.0 L120.6 251.0 L121.8 250.9 L122.8 250.6 L123.5 250.5 L123.5 265.5 L111.0 266.2 L102.0 265.0 L94.0 263.8 L84.0 262.0 L72.0 263.8 L60.0 265.0 L52.0 266.6 L36.5 267.3 L20.0 268.0 L4.9 268.6 Z" fill="#d8f432" opacity="1"/>
<path d="M70.0 255.7 L71.0 255.6 L73.2 255.0 L75.6 254.0 L78.1 253.1 L80.6 252.5 L83.0 252.4 L85.4 252.7 L87.8 253.0 L90.5 253.2 L93.5 253.1 L96.6 253.0 L99.8 252.7 L102.8 252.3 L105.6 251.6 L108.2 250.6 L110.7 249.7 L112.9 249.2 L114.8 249.4 L116.5 249.9 L117.9 250.6 L119.3 251.0 L120.6 251.0 L121.8 250.9 L122.8 250.6 L123.5 250.5 L123.5 253.4 L119.5 255.2 L115.0 258.2 L106.0 257.6 L102.5 255.8 L96.5 255.2 L91.5 256.4 L87.0 259.4 L78.0 259.2 L70.0 256.2 Z" fill="#ffff00" opacity="1"/>
</g>
<path d="M4.9 262.0 L5.6 262.3 L6.5 262.8 L7.7 263.3 L9.1 263.3 L10.6 262.7 L12.3 261.8 L14.2 260.8 L16.4 260.2 L18.9 260.3 L21.8 260.8 L24.7 261.4 L27.4 261.5 L29.6 261.0 L31.6 260.2 L33.8 259.3 L36.5 258.7 L40.2 258.5 L44.6 258.6 L49.0 258.6 L52.9 258.4 L56.1 257.8 L59.0 256.9 L61.6 256.0 L63.9 255.4 L65.9 255.3 L67.5 255.5 L69.1 255.7 L71.0 255.6 L73.2 255.0 L75.6 254.0 L78.1 253.1 L80.6 252.5 L83.0 252.4 L85.4 252.7 L87.8 253.0 L90.5 253.2 L93.5 253.1 L96.6 253.0 L99.8 252.7 L102.8 252.3 L105.6 251.6 L108.2 250.6 L110.7 249.7 L112.9 249.2 L114.8 249.4 L116.5 249.9 L117.9 250.6 L119.3 251.0 L120.6 251.0 L121.8 250.9 L122.8 250.6 L123.5 250.5" fill="none" stroke="#222" stroke-width="1" stroke-linejoin="round"/>
<rect x="4.9" y="243.2" width="118.6" height="114.2" fill="none" stroke="#333" stroke-width="1"/>
<path d="M28.5 357.4 v2.5" stroke="#333" stroke-width="0.8"/>
<text x="28.5" y="371.9" text-anchor="middle" class="bt">900</text>
<path d="M75.8 357.4 v2.5" stroke="#333" stroke-width="0.8"/>
<text x="75.8" y="371.9" text-anchor="middle" class="bt">800</text>
<path d="M123.1 357.4 v2.5" stroke="#333" stroke-width="0.8"/>
<text x="123.1" y="371.9" text-anchor="middle" class="bt">700</text>
<path d="M123.5 263.9 h2.5" stroke="#333" stroke-width="0.8"/>
<text x="128.3" y="267.4" class="bt">600</text>
<path d="M123.5 310.7 h2.5" stroke="#333" stroke-width="0.8"/>
<text x="128.3" y="314.2" class="bt">500</text>
<path d="M123.5 357.5 h2.5" stroke="#333" stroke-width="0.8"/>
<text x="128.3" y="361.0" class="bt">400</text>
<text x="146.5" y="304" class="bl"><tspan class="it">x</tspan> (m)</text>
<text x="52.7" y="385.6" class="bl"><tspan class="it">y</tspan> (m)</text>
</g>
<g transform="translate(172.4,243.2) scale(1.011,1.0145) translate(-4.9,-243.2)">
<rect x="4.9" y="243.2" width="118.6" height="114.2" fill="#b4b4b4"/>
<path d="M4.9 262.0 L5.6 262.3 L6.5 262.8 L7.7 263.3 L9.1 263.3 L10.6 262.7 L12.3 261.8 L14.2 260.8 L16.4 260.2 L18.9 260.3 L21.8 260.8 L24.7 261.4 L27.4 261.5 L29.6 261.0 L31.6 260.2 L33.8 259.3 L36.5 258.7 L40.2 258.5 L44.6 258.6 L49.0 258.6 L52.9 258.4 L56.1 257.8 L59.0 256.9 L61.6 256.0 L63.9 255.4 L65.9 255.3 L67.5 255.5 L69.1 255.7 L71.0 255.6 L73.2 255.0 L75.6 254.0 L78.1 253.1 L80.6 252.5 L83.0 252.4 L85.4 252.7 L87.8 253.0 L90.5 253.2 L93.5 253.1 L96.6 253.0 L99.8 252.7 L102.8 252.3 L105.6 251.6 L108.2 250.6 L110.7 249.7 L112.9 249.2 L114.8 249.4 L116.5 249.9 L117.9 250.6 L119.3 251.0 L120.6 251.0 L121.8 250.9 L122.8 250.6 L123.5 250.5 L123.5 357.4 L4.9 357.4 Z" fill="#90f0b0"/>
<clipPath id="bc167"><path d="M4.9 262.0 L5.6 262.3 L6.5 262.8 L7.7 263.3 L9.1 263.3 L10.6 262.7 L12.3 261.8 L14.2 260.8 L16.4 260.2 L18.9 260.3 L21.8 260.8 L24.7 261.4 L27.4 261.5 L29.6 261.0 L31.6 260.2 L33.8 259.3 L36.5 258.7 L40.2 258.5 L44.6 258.6 L49.0 258.6 L52.9 258.4 L56.1 257.8 L59.0 256.9 L61.6 256.0 L63.9 255.4 L65.9 255.3 L67.5 255.5 L69.1 255.7 L71.0 255.6 L73.2 255.0 L75.6 254.0 L78.1 253.1 L80.6 252.5 L83.0 252.4 L85.4 252.7 L87.8 253.0 L90.5 253.2 L93.5 253.1 L96.6 253.0 L99.8 252.7 L102.8 252.3 L105.6 251.6 L108.2 250.6 L110.7 249.7 L112.9 249.2 L114.8 249.4 L116.5 249.9 L117.9 250.6 L119.3 251.0 L120.6 251.0 L121.8 250.9 L122.8 250.6 L123.5 250.5 L123.5 357.4 L4.9 357.4 Z"/></clipPath><g clip-path="url(#bc167)">
<path d="M4.9 262.0 L5.6 262.3 L6.5 262.8 L7.7 263.3 L9.1 263.3 L10.6 262.7 L12.3 261.8 L14.2 260.8 L16.4 260.2 L18.9 260.3 L21.8 260.8 L24.7 261.4 L27.4 261.5 L29.6 261.0 L31.6 260.2 L33.8 259.3 L36.5 258.7 L40.2 258.5 L44.6 258.6 L49.0 258.6 L52.9 258.4 L56.1 257.8 L59.0 256.9 L61.6 256.0 L63.9 255.4 L65.9 255.3 L67.5 255.5 L69.1 255.7 L71.0 255.6 L73.2 255.0 L75.6 254.0 L78.1 253.1 L80.6 252.5 L83.0 252.4 L85.4 252.7 L87.8 253.0 L90.5 253.2 L93.5 253.1 L96.6 253.0 L99.8 252.7 L102.8 252.3 L105.6 251.6 L108.2 250.6 L110.7 249.7 L112.9 249.2 L114.8 249.4 L116.5 249.9 L117.9 250.6 L119.3 251.0 L120.6 251.0 L121.8 250.9 L122.8 250.6 L123.5 250.5 L123.5 306.0 L120.0 301.2 L115.3 291.6 L109.3 283.2 L103.3 284.4 L102.6 288.0 L102.0 292.8 L91.3 294.0 L86.5 292.8 L84.0 296.9 L69.7 296.9 L64.9 294.0 L63.5 289.0 L62.5 283.2 L32.5 283.2 L31.3 290.0 L30.0 296.4 L19.3 296.4 L14.5 291.6 L4.9 280.8 Z" fill="#94ee8c" opacity="1"/>
<path d="M62.0 273.1 Q62.0 272.5 68.5 272.1 Q75.0 271.6 81.5 271.8 Q88.0 272.0 94.0 272.3 Q100.0 272.6 100.0 273.1 Q100.0 273.6 94.0 273.4 Q88.0 273.2 81.5 273.0 Q75.0 272.8 68.5 273.2 Q62.0 273.6 62.0 273.1 Z" fill="#90f0c4" opacity="0.8"/>
<path d="M4.9 262.0 L5.6 262.3 L6.5 262.8 L7.7 263.3 L9.1 263.3 L10.6 262.7 L12.3 261.8 L14.2 260.8 L16.4 260.2 L18.9 260.3 L21.8 260.8 L24.7 261.4 L27.4 261.5 L29.6 261.0 L31.6 260.2 L33.8 259.3 L36.5 258.7 L40.2 258.5 L44.6 258.6 L49.0 258.6 L52.9 258.4 L56.1 257.8 L59.0 256.9 L61.6 256.0 L63.9 255.4 L65.9 255.3 L67.5 255.5 L69.1 255.7 L71.0 255.6 L73.2 255.0 L75.6 254.0 L78.1 253.1 L80.6 252.5 L83.0 252.4 L85.4 252.7 L87.8 253.0 L90.5 253.2 L93.5 253.1 L96.6 253.0 L99.8 252.7 L102.8 252.3 L105.6 251.6 L108.2 250.6 L110.7 249.7 L112.9 249.2 L114.8 249.4 L116.5 249.9 L117.9 250.6 L119.3 251.0 L120.6 251.0 L121.8 250.9 L122.8 250.6 L123.5 250.5 L123.5 268.0 L110.0 268.2 L98.0 268.6 L84.0 269.8 L70.0 271.0 L52.0 270.6 L36.5 269.8 L18.4 271.0 L4.9 274.0 Z" fill="#b4f060" opacity="1"/>
<path d="M4.9 262.0 L5.6 262.3 L6.5 262.8 L7.7 263.3 L9.1 263.3 L10.6 262.7 L12.3 261.8 L14.2 260.8 L16.4 260.2 L18.9 260.3 L21.8 260.8 L24.7 261.4 L27.4 261.5 L29.6 261.0 L31.6 260.2 L33.8 259.3 L36.5 258.7 L40.2 258.5 L44.6 258.6 L49.0 258.6 L52.9 258.4 L56.1 257.8 L59.0 256.9 L61.6 256.0 L63.9 255.4 L65.9 255.3 L67.5 255.5 L69.1 255.7 L71.0 255.6 L73.2 255.0 L75.6 254.0 L78.1 253.1 L80.6 252.5 L83.0 252.4 L85.4 252.7 L87.8 253.0 L90.5 253.2 L93.5 253.1 L96.6 253.0 L99.8 252.7 L102.8 252.3 L105.6 251.6 L108.2 250.6 L110.7 249.7 L112.9 249.2 L114.8 249.4 L116.5 249.9 L117.9 250.6 L119.3 251.0 L120.6 251.0 L121.8 250.9 L122.8 250.6 L123.5 250.5 L123.5 264.4 L110.0 264.6 L96.0 264.8 L84.0 265.6 L70.0 266.0 L60.0 268.4 L48.5 269.0 L34.0 266.0 L18.4 267.3 L4.9 270.4 Z" fill="#d8f432" opacity="1"/>
<path d="M4.9 262.0 L5.6 262.3 L6.5 262.8 L7.7 263.3 L9.1 263.3 L10.6 262.7 L12.3 261.8 L14.2 260.8 L16.4 260.2 L18.9 260.3 L21.8 260.8 L24.7 261.4 L26.0 261.4 L26.0 262.2 L21.0 263.6 L16.0 265.2 L10.0 266.6 L4.9 266.3 Z" fill="#ffff00" opacity="1"/>
<path d="M92.0 253.2 L93.5 253.1 L96.6 253.0 L99.8 252.7 L102.8 252.3 L105.6 251.6 L108.2 250.6 L110.7 249.7 L112.9 249.2 L114.8 249.4 L116.5 249.9 L117.9 250.6 L119.3 251.0 L120.6 251.0 L121.8 250.9 L122.8 250.6 L123.5 250.5 L123.5 258.0 L119.0 258.6 L115.0 260.2 L111.0 260.6 L106.0 259.0 L101.0 256.6 L94.0 253.6 Z" fill="#ffff00" opacity="1"/>
</g>
<path d="M4.9 262.0 L5.6 262.3 L6.5 262.8 L7.7 263.3 L9.1 263.3 L10.6 262.7 L12.3 261.8 L14.2 260.8 L16.4 260.2 L18.9 260.3 L21.8 260.8 L24.7 261.4 L27.4 261.5 L29.6 261.0 L31.6 260.2 L33.8 259.3 L36.5 258.7 L40.2 258.5 L44.6 258.6 L49.0 258.6 L52.9 258.4 L56.1 257.8 L59.0 256.9 L61.6 256.0 L63.9 255.4 L65.9 255.3 L67.5 255.5 L69.1 255.7 L71.0 255.6 L73.2 255.0 L75.6 254.0 L78.1 253.1 L80.6 252.5 L83.0 252.4 L85.4 252.7 L87.8 253.0 L90.5 253.2 L93.5 253.1 L96.6 253.0 L99.8 252.7 L102.8 252.3 L105.6 251.6 L108.2 250.6 L110.7 249.7 L112.9 249.2 L114.8 249.4 L116.5 249.9 L117.9 250.6 L119.3 251.0 L120.6 251.0 L121.8 250.9 L122.8 250.6 L123.5 250.5" fill="none" stroke="#222" stroke-width="1" stroke-linejoin="round"/>
<rect x="4.9" y="243.2" width="118.6" height="114.2" fill="none" stroke="#333" stroke-width="1"/>
<path d="M28.5 357.4 v2.5" stroke="#333" stroke-width="0.8"/>
<text x="28.5" y="371.9" text-anchor="middle" class="bt">900</text>
<path d="M75.8 357.4 v2.5" stroke="#333" stroke-width="0.8"/>
<text x="75.8" y="371.9" text-anchor="middle" class="bt">800</text>
<path d="M123.1 357.4 v2.5" stroke="#333" stroke-width="0.8"/>
<text x="123.1" y="371.9" text-anchor="middle" class="bt">700</text>
<path d="M123.5 263.9 h2.5" stroke="#333" stroke-width="0.8"/>
<text x="128.3" y="267.4" class="bt">600</text>
<path d="M123.5 310.7 h2.5" stroke="#333" stroke-width="0.8"/>
<text x="128.3" y="314.2" class="bt">500</text>
<path d="M123.5 357.5 h2.5" stroke="#333" stroke-width="0.8"/>
<text x="128.3" y="361.0" class="bt">400</text>
<text x="146.5" y="304" class="bl"><tspan class="it">x</tspan> (m)</text>
<text x="52.7" y="385.6" class="bl"><tspan class="it">y</tspan> (m)</text>
</g>
<g transform="translate(342.4,243.2) scale(1.011,1.0145) translate(-4.9,-243.2)">
<rect x="4.9" y="243.2" width="118.6" height="114.2" fill="#b4b4b4"/>
<path d="M4.9 262.0 L5.6 262.3 L6.5 262.8 L7.7 263.3 L9.1 263.3 L10.6 262.7 L12.3 261.8 L14.2 260.8 L16.4 260.2 L18.9 260.3 L21.8 260.8 L24.7 261.4 L27.4 261.5 L29.6 261.0 L31.6 260.2 L33.8 259.3 L36.5 258.7 L40.2 258.5 L44.6 258.6 L49.0 258.6 L52.9 258.4 L56.1 257.8 L59.0 256.9 L61.6 256.0 L63.9 255.4 L65.9 255.3 L67.5 255.5 L69.1 255.7 L71.0 255.6 L73.2 255.0 L75.6 254.0 L78.1 253.1 L80.6 252.5 L83.0 252.4 L85.4 252.7 L87.8 253.0 L90.5 253.2 L93.5 253.1 L96.6 253.0 L99.8 252.7 L102.8 252.3 L105.6 251.6 L108.2 250.6 L110.7 249.7 L112.9 249.2 L114.8 249.4 L116.5 249.9 L117.9 250.6 L119.3 251.0 L120.6 251.0 L121.8 250.9 L122.8 250.6 L123.5 250.5 L123.5 357.4 L4.9 357.4 Z" fill="#90f0b0"/>
<clipPath id="bc337"><path d="M4.9 262.0 L5.6 262.3 L6.5 262.8 L7.7 263.3 L9.1 263.3 L10.6 262.7 L12.3 261.8 L14.2 260.8 L16.4 260.2 L18.9 260.3 L21.8 260.8 L24.7 261.4 L27.4 261.5 L29.6 261.0 L31.6 260.2 L33.8 259.3 L36.5 258.7 L40.2 258.5 L44.6 258.6 L49.0 258.6 L52.9 258.4 L56.1 257.8 L59.0 256.9 L61.6 256.0 L63.9 255.4 L65.9 255.3 L67.5 255.5 L69.1 255.7 L71.0 255.6 L73.2 255.0 L75.6 254.0 L78.1 253.1 L80.6 252.5 L83.0 252.4 L85.4 252.7 L87.8 253.0 L90.5 253.2 L93.5 253.1 L96.6 253.0 L99.8 252.7 L102.8 252.3 L105.6 251.6 L108.2 250.6 L110.7 249.7 L112.9 249.2 L114.8 249.4 L116.5 249.9 L117.9 250.6 L119.3 251.0 L120.6 251.0 L121.8 250.9 L122.8 250.6 L123.5 250.5 L123.5 357.4 L4.9 357.4 Z"/></clipPath><g clip-path="url(#bc337)">
<path d="M4.9 262.0 L5.6 262.3 L6.5 262.8 L7.7 263.3 L9.1 263.3 L10.6 262.7 L12.3 261.8 L14.2 260.8 L16.4 260.2 L18.9 260.3 L21.8 260.8 L24.7 261.4 L27.4 261.5 L29.6 261.0 L31.6 260.2 L33.8 259.3 L36.5 258.7 L40.2 258.5 L44.6 258.6 L49.0 258.6 L52.9 258.4 L56.1 257.8 L59.0 256.9 L61.6 256.0 L63.9 255.4 L65.9 255.3 L67.5 255.5 L69.1 255.7 L71.0 255.6 L73.2 255.0 L75.6 254.0 L78.1 253.1 L80.6 252.5 L83.0 252.4 L85.4 252.7 L87.8 253.0 L90.5 253.2 L93.5 253.1 L96.6 253.0 L99.8 252.7 L102.8 252.3 L105.6 251.6 L108.2 250.6 L110.7 249.7 L112.9 249.2 L114.8 249.4 L116.5 249.9 L117.9 250.6 L119.3 251.0 L120.6 251.0 L121.8 250.9 L122.8 250.6 L123.5 250.5 L123.5 271.5 L90.0 271.0 L70.0 271.0 L50.0 271.5 L30.0 272.0 L14.0 274.0 L4.9 275.0 Z" fill="#94ee8c" opacity="1"/>
<path d="M22.5 274.5 Q13.0 275.0 13.2 279.5 Q13.5 284.0 15.2 285.8 Q17.0 287.6 21.0 287.5 Q25.0 287.4 27.0 285.2 Q29.0 283.0 31.0 281.0 Q33.0 279.0 32.5 276.5 Q32.0 274.0 22.5 274.5 Z" fill="#94ee8c" opacity="1"/>
<path d="M49.0 270.0 Q34.0 270.0 34.5 273.5 Q35.0 277.0 37.5 278.2 Q40.0 279.5 44.0 279.2 Q48.0 279.0 51.5 278.5 Q55.0 278.0 58.5 277.0 Q62.0 276.0 63.0 273.0 Q64.0 270.0 49.0 270.0 Z" fill="#94ee8c" opacity="0.85"/>
<path d="M94.0 271.0 Q82.0 271.0 82.5 275.5 Q83.0 280.0 84.0 284.5 Q85.0 289.0 87.5 290.0 Q90.0 291.0 92.0 288.5 Q94.0 286.0 96.0 283.0 Q98.0 280.0 101.0 279.0 Q104.0 278.0 105.0 274.5 Q106.0 271.0 94.0 271.0 Z" fill="#94ee8c" opacity="0.9"/>
<path d="M116.8 270.0 Q107.0 270.0 107.5 275.0 Q108.0 280.0 110.0 285.0 Q112.0 290.0 115.0 290.5 Q118.0 291.0 122.2 289.5 Q126.5 288.0 126.5 279.0 Q126.5 270.0 116.8 270.0 Z" fill="#94ee8c" opacity="0.9"/>
<path d="M71.0 271.0 Q60.0 271.0 65.0 273.0 Q70.0 275.0 75.0 275.5 Q80.0 276.0 81.0 273.5 Q82.0 271.0 71.0 271.0 Z" fill="#94ee8c" opacity="0.8"/>
<path d="M4.9 262.0 L5.6 262.3 L6.5 262.8 L7.7 263.3 L9.1 263.3 L10.6 262.7 L12.3 261.8 L14.2 260.8 L16.4 260.2 L18.9 260.3 L21.8 260.8 L24.7 261.4 L27.4 261.5 L29.6 261.0 L31.6 260.2 L33.8 259.3 L36.5 258.7 L40.2 258.5 L44.6 258.6 L49.0 258.6 L52.9 258.4 L56.1 257.8 L59.0 256.9 L61.6 256.0 L63.9 255.4 L65.9 255.3 L67.5 255.5 L69.1 255.7 L71.0 255.6 L73.2 255.0 L75.6 254.0 L78.1 253.1 L80.6 252.5 L83.0 252.4 L85.4 252.7 L87.8 253.0 L90.5 253.2 L93.5 253.1 L96.6 253.0 L99.8 252.7 L102.8 252.3 L105.6 251.6 L108.2 250.6 L110.7 249.7 L112.9 249.2 L114.8 249.4 L116.5 249.9 L117.9 250.6 L119.3 251.0 L120.6 251.0 L121.8 250.9 L122.8 250.6 L123.5 250.5 L123.5 268.6 L100.0 268.4 L85.0 268.0 L70.0 268.8 L55.0 269.2 L36.5 269.2 L18.4 269.8 L12.0 272.2 L4.9 272.8 Z" fill="#b4f060" opacity="1"/>
<path d="M4.9 262.0 L5.6 262.3 L6.5 262.8 L7.7 263.3 L9.1 263.3 L10.6 262.7 L12.3 261.8 L14.2 260.8 L16.4 260.2 L18.9 260.3 L21.8 260.8 L24.7 261.4 L27.4 261.5 L29.6 261.0 L31.6 260.2 L33.8 259.3 L36.5 258.7 L40.2 258.5 L44.6 258.6 L49.0 258.6 L52.9 258.4 L56.1 257.8 L59.0 256.9 L61.6 256.0 L63.9 255.4 L65.9 255.3 L67.5 255.5 L69.1 255.7 L71.0 255.6 L73.2 255.0 L75.6 254.0 L78.1 253.1 L80.6 252.5 L83.0 252.4 L85.4 252.7 L87.8 253.0 L90.5 253.2 L93.5 253.1 L96.6 253.0 L99.8 252.7 L102.8 252.3 L105.6 251.6 L108.2 250.6 L110.7 249.7 L112.9 249.2 L114.8 249.4 L116.5 249.9 L117.9 250.6 L119.3 251.0 L120.6 251.0 L121.8 250.9 L122.8 250.6 L123.5 250.5 L123.5 264.3 L105.0 263.8 L90.0 264.0 L78.0 263.4 L66.0 262.5 L52.0 263.4 L36.5 264.3 L18.4 266.0 L4.9 269.2 Z" fill="#d8f432" opacity="1"/>
<path d="M74.0 254.7 L75.6 254.0 L78.1 253.1 L80.6 252.5 L83.0 252.4 L85.4 252.7 L87.8 253.0 L90.5 253.2 L93.5 253.1 L96.6 253.0 L99.8 252.7 L102.8 252.3 L105.6 251.6 L108.2 250.6 L110.7 249.7 L112.9 249.2 L114.8 249.4 L116.5 249.9 L117.9 250.6 L119.3 251.0 L120.6 251.0 L121.8 250.9 L122.8 250.6 L123.5 250.5 L123.5 255.8 L120.0 257.0 L114.0 258.2 L108.0 258.8 L96.0 258.2 L90.0 256.4 L84.0 255.6 L76.0 254.0 Z" fill="#ffff00" opacity="1"/>
</g>
<path d="M4.9 262.0 L5.6 262.3 L6.5 262.8 L7.7 263.3 L9.1 263.3 L10.6 262.7 L12.3 261.8 L14.2 260.8 L16.4 260.2 L18.9 260.3 L21.8 260.8 L24.7 261.4 L27.4 261.5 L29.6 261.0 L31.6 260.2 L33.8 259.3 L36.5 258.7 L40.2 258.5 L44.6 258.6 L49.0 258.6 L52.9 258.4 L56.1 257.8 L59.0 256.9 L61.6 256.0 L63.9 255.4 L65.9 255.3 L67.5 255.5 L69.1 255.7 L71.0 255.6 L73.2 255.0 L75.6 254.0 L78.1 253.1 L80.6 252.5 L83.0 252.4 L85.4 252.7 L87.8 253.0 L90.5 253.2 L93.5 253.1 L96.6 253.0 L99.8 252.7 L102.8 252.3 L105.6 251.6 L108.2 250.6 L110.7 249.7 L112.9 249.2 L114.8 249.4 L116.5 249.9 L117.9 250.6 L119.3 251.0 L120.6 251.0 L121.8 250.9 L122.8 250.6 L123.5 250.5" fill="none" stroke="#222" stroke-width="1" stroke-linejoin="round"/>
<rect x="4.9" y="243.2" width="118.6" height="114.2" fill="none" stroke="#333" stroke-width="1"/>
<path d="M28.5 357.4 v2.5" stroke="#333" stroke-width="0.8"/>
<text x="28.5" y="371.9" text-anchor="middle" class="bt">900</text>
<path d="M75.8 357.4 v2.5" stroke="#333" stroke-width="0.8"/>
<text x="75.8" y="371.9" text-anchor="middle" class="bt">800</text>
<path d="M123.1 357.4 v2.5" stroke="#333" stroke-width="0.8"/>
<text x="123.1" y="371.9" text-anchor="middle" class="bt">700</text>
<path d="M123.5 263.9 h2.5" stroke="#333" stroke-width="0.8"/>
<text x="128.3" y="267.4" class="bt">600</text>
<path d="M123.5 310.7 h2.5" stroke="#333" stroke-width="0.8"/>
<text x="128.3" y="314.2" class="bt">500</text>
<path d="M123.5 357.5 h2.5" stroke="#333" stroke-width="0.8"/>
<text x="128.3" y="361.0" class="bt">400</text>
<text x="146.5" y="304" class="bl"><tspan class="it">x</tspan> (m)</text>
<text x="52.7" y="385.6" class="bl"><tspan class="it">y</tspan> (m)</text>
</g>
<text x="37.8" y="404.5" class="cb">(a)</text><text x="56.2" y="404.5" class="cb"><tspan class="it">θ</tspan></text><text x="66.8" y="404.5" class="cb">=</text><text x="75" y="404.5" class="cb">0°</text>
<text x="214.5" y="401.4" class="cb">(b)</text><text x="229.8" y="401.4" class="cb"><tspan class="it">θ</tspan></text><text x="240.7" y="401.4" class="cb">=</text><text x="249" y="401.4" class="cb">10°</text>
<text x="382.8" y="403.6" class="cb">(c)</text><text x="399.8" y="403.6" class="cb"><tspan class="it">θ</tspan></text><text x="411.8" y="403.6" class="cb">=</text><text x="418.5" y="403.6" class="cb">20°</text>
</svg>
</body></html>
